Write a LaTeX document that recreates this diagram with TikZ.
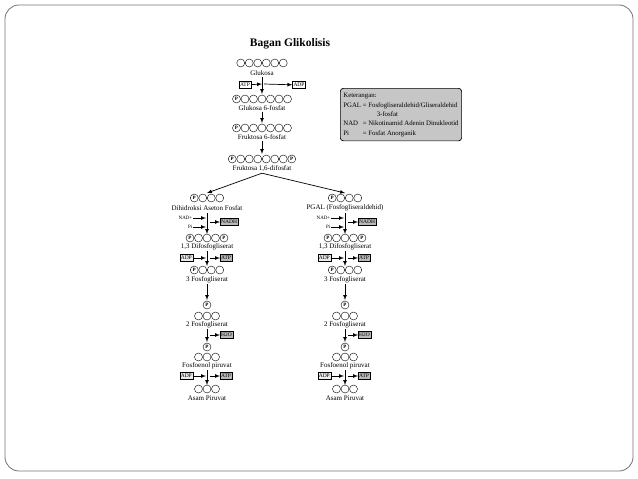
\documentclass[tikz,border=0pt]{standalone}
\usepackage{fontspec}
\setmainfont{Liberation Serif}
\usetikzlibrary{positioning}

\tikzset{
  mol/.style={circle, draw, minimum size=8pt, inner sep=0pt},
  o/.style={},
  p/.style={label={[inner sep=0pt]center:{\fontsize{5}{5}\selectfont\bfseries P}}},
  lbl/.style={font=\fontsize{7}{7}\selectfont, inner sep=1pt},
  side/.style={font=\fontsize{5}{5}\selectfont, inner sep=0.5pt},
  inbox/.style={draw, fill=gray!15, font=\fontsize{5.5}{6}\selectfont, inner sep=1pt, minimum height=7pt},
  outbox/.style={draw, fill=gray!55, font=\fontsize{5.5}{6}\selectfont, inner sep=1pt, minimum height=7pt},
  arr/.style={->, >=latex, line width=0.7pt},
}

% a row of rings: start x, y, list of kinds
\newcommand{\molrow}[3]{%
  \foreach \t [count=\i from 0] in {#3}
    \node[mol,\t] at ({#1+\i*8.5},#2) {};}

\begin{document}
\begin{tikzpicture}[x=1pt,y=-1pt]
  \useasboundingbox (0,0) rectangle (638,479);
  \draw[gray!90!black, line width=0.8pt, rounded corners=14pt] (5,5) rectangle (633,471);

  \node[font=\bfseries\fontsize{11.5}{12}\selectfont] (title) at (290,44) {Bagan Glikolisis};

  % upper chain
  \molrow{240.75}{63}{o,o,o,o,o,o}
  \node[lbl] (glu) at (262,73) {Glukosa};
  \coordinate (a1) at (262,84);
  \node[inbox, fill=white] (atp0) at (245,85) {ATP};
  \node[inbox, fill=white] (adp0) at (299,85) {ADP};
  \molrow{236.5}{99}{p,o,o,o,o,o,o}
  \node[lbl] (g6p) at (262,108) {Glukosa 6-fosfat};
  \molrow{236.5}{128}{p,o,o,o,o,o,o}
  \node[lbl] (f6p) at (262,137) {Fruktosa 6-fosfat};
  \molrow{232.25}{159}{p,o,o,o,o,o,o,p}
  \node[lbl] (fdp) at (262,169) {Fruktosa 1,6-difosfat};

  \draw[arr] (glu) -- (262,94);
  \draw[arr] (atp0) -- (a1);
  \draw[arr] (264,84) -- (adp0);
  \draw[arr] (g6p) -- (262,123);
  \draw[arr] (f6p) -- (262,154);
  \draw[arr] (fdp.south) -- (207,193);
  \draw[arr] (fdp.south) -- (345,193);

  % legend
  \node[draw, rounded corners=3pt, fill=gray!45, line width=0.7pt, align=left,
        font=\fontsize{6.8}{9.3}\selectfont, inner sep=3pt, anchor=north west] (ket) at (340,88)
    {\begin{tabular}{@{}l@{\ }l@{}}
     \multicolumn{2}{@{}l}{Keterangan:}\\
     PGAL & = Fosfogliseraldehid/Gliseraldehid\\
          & \hspace*{14pt}3-fosfat\\
     NAD  & = Nikotinamid Adenin Dinukleotid\\
     Pi   & = Fosfat Anorganik
     \end{tabular}};

  % two triose branches
  \foreach \cx/\s/\first in {207/L/Dihidroksi Aseton Fosfat, 345/R/PGAL (Fosfogliseraldehid)} {
    \molrow{\cx-12.75}{198}{p,o,o,o}
    \node[lbl] (tri\s) at (\cx,208) {\first};
    \node[side, anchor=east] (nad\s) at (\cx-14,218) {NAD+};
    \node[side, anchor=east] (pi\s) at (\cx-14,227) {Pi};
    \node[outbox, anchor=west] (nadh\s) at (\cx+13,222) {NADH};
    \coordinate (v1\s) at (\cx,213);
    \coordinate (v2\s) at (\cx,234);
    \draw[arr] (v1\s) -- (v2\s);
    \draw[arr] (nad\s) -- (\cx-1,218);
    \draw[arr] (pi\s) -- (\cx-1,227);
    \draw[arr] (\cx+3,222) -- (nadh\s);

    \molrow{\cx-17}{238}{p,o,o,o,p}
    \node[lbl] (dpg\s) at (\cx,247) {1,3 Difosfogliserat};
    \node[inbox, anchor=east] (adpa\s) at (\cx-14,258) {ADP};
    \node[outbox, anchor=west] (atpa\s) at (\cx+13,258) {ATP};
    \draw[arr] (dpg\s) -- (\cx,266);
    \draw[arr] (adpa\s) -- (\cx-1,258);
    \draw[arr] (\cx+3,258) -- (atpa\s);

    \molrow{\cx-12.75}{270}{p,o,o,o}
    \node[lbl] (pg3\s) at (\cx,280) {3 Fosfogliserat};
    \draw[arr] (pg3\s) -- (\cx,300);

    \molrow{\cx}{305}{p}
    \molrow{\cx-8.5}{316}{o,o,o}
    \node[lbl] (pg2\s) at (\cx,325) {2 Fosfogliserat};
    \node[outbox, anchor=west] (h2o\s) at (\cx+13,335) {H2O};
    \draw[arr] (pg2\s) -- (\cx,342);
    \draw[arr] (\cx+3,335) -- (h2o\s);

    \molrow{\cx}{347}{p}
    \molrow{\cx-8.5}{357}{o,o,o}
    \node[lbl] (pep\s) at (\cx,366) {Fosfoenol piruvat};
    \node[inbox, anchor=east] (adpb\s) at (\cx-14,376) {ADP};
    \node[outbox, anchor=west] (atpb\s) at (\cx+13,376) {ATP};
    \draw[arr] (pep\s) -- (\cx,385);
    \draw[arr] (adpb\s) -- (\cx-1,376);
    \draw[arr] (\cx+3,376) -- (atpb\s);

    \molrow{\cx-8.5}{389}{o,o,o}
    \node[lbl] (pyr\s) at (\cx,398) {Asam Piruvat};
  }
\end{tikzpicture}
\end{document}
